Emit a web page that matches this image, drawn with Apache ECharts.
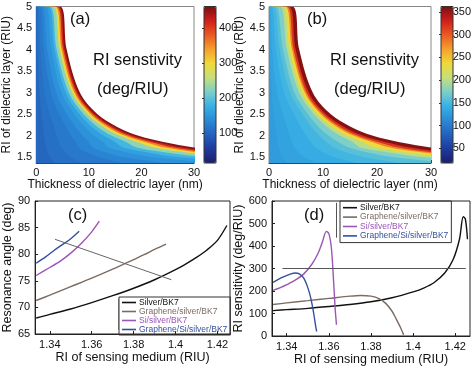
<!DOCTYPE html>
<html><head><meta charset="utf-8">
<script src="https://cdn.jsdelivr.net/npm/echarts@6/dist/echarts.min.js"></script>
<style>html,body{margin:0;padding:0;background:#fff}#c{width:474px;height:367px}</style>
</head><body><div id="c"></div>
<script>
// ================= DATA =================
// Heat maps (a),(b): iso-sensitivity contours, thickness (nm) read at these RI rows.
// Each contour k encloses the region whose colour is levelValues[k] (outermost = resonance edge).
const contourRowsRI = [5.0, 4.0, 3.0, 2.5, 2.2, 2.0, 1.85, 1.72, 1.6, 1.5, 1.4, 1.36];

const levelValuesA = [455, 415, 360, 300, 230, 185, 160, 145, 132, 120, 110, 100];
const contourThicknessA = [
  [4.5, 5.8, 8.3, 11.6, 15.4, 19.3, 24.2, 30.0, 38.0, 50.0, 70.0, 84.0],
  [4.13, 5.42, 7.88, 11.08, 14.66, 18.3, 22.78, 27.82, 35.4, 46.4, 64.8, 77],
  [3.85, 5.14, 7.57, 10.69, 14.11, 17.55, 21.72, 26.2, 33.5, 43.7, 60.9, 71.8],
  [3.57, 4.85, 7.25, 10.3, 13.55, 16.8, 20.65, 24.55, 31.5, 41, 57, 66.5],
  [3.19, 4.47, 6.83, 9.78, 12.81, 15.8, 19.23, 22.37, 28.9, 37.4, 51.8, 59.5],
  [2.63, 3.9, 6.2, 9.0, 11.7, 14.3, 17.1, 19.1, 25, 32, 44, 49],
  [2.3, 3.5, 5.6, 8.2, 10.6, 12.8, 15.0, 16.5, 21.5, 27, 37, 41],
  [1.8, 2.9, 4.8, 7.2, 9.3, 11.0, 12.8, 13.8, 17.5, 22, 30, 33],
  [1.2, 2.1, 3.8, 5.8, 7.5, 8.8, 10.0, 10.8, 13.5, 16.5, 22, 24],
  [0.8, 1.5, 2.8, 4.4, 5.7, 6.6, 7.5, 8.1, 9.8, 12.0, 15, 16],
  [0.4, 0.8, 1.6, 2.6, 3.4, 3.9, 4.4, 4.8, 5.6, 6.6, 8.0, 8.5],
  [0.15, 0.3, 0.6, 1.0, 1.3, 1.5, 1.7, 1.9, 2.2, 2.6, 3.2, 3.4]
];

const levelValuesB = [358, 320, 280, 235, 200, 175, 158, 148, 140, 132, 126];
const contourThicknessB = [
  [4.3, 5.6, 8.1, 11.4, 15.2, 19.1, 24.0, 30.0, 38.0, 50.0, 70.0, 84.0],
  [3.65, 4.94, 7.37, 10.49, 13.91, 17.35, 21.52, 26.2, 33.5, 43.7, 60.9, 71.8],
  [3.27, 4.56, 6.95, 9.97, 13.17, 16.35, 20.1, 24.0, 30.9, 40.1, 55.7, 64.8],
  [2.99, 4.27, 6.63, 9.58, 12.61, 15.6, 19.03, 22.37, 28.9, 37.4, 51.8, 59.5],
  [2.52, 3.8, 6.1, 8.93, 11.69, 14.35, 17.26, 19.65, 25.65, 32.9, 45.3, 50.75],
  [2.06, 3.32, 5.58, 8.28, 10.76, 13.1, 15.48, 16.92, 22.4, 28.4, 38.8, 42],
  [1.3, 2.6, 4.7, 7.2, 9.2, 11.0, 12.8, 14.8, 18.5, 23, 30, 34],
  [0.9, 2.0, 3.9, 6.2, 7.9, 9.3, 10.6, 12.0, 14.5, 17.5, 22, 24],
  [0.5, 1.3, 2.8, 4.6, 5.9, 6.9, 7.8, 8.6, 10.2, 12, 15, 16],
  [0.2, 0.6, 1.5, 2.6, 3.3, 3.8, 4.3, 4.7, 5.5, 6.5, 8, 8.5],
  [0.08, 0.2, 0.5, 0.9, 1.2, 1.4, 1.6, 1.8, 2.1, 2.5, 3.0, 3.2]
];

const colorbarRangeA = [15, 462];
const colorbarTicksA = [100, 200, 300, 400];
const colorbarRangeB = [18, 362];
const colorbarTicksB = [50, 100, 150, 200, 250, 300, 350];
const riTicks = [1.5, 2, 2.5, 3, 3.5, 4, 4.5, 5];

// Line panels (c),(d)
const seriesNames = ['Silver/BK7', 'Graphene/silver/BK7', 'Si/silver/BK7', 'Graphene/Si/silver/BK7'];
const sensingTicks = [1.34, 1.36, 1.38, 1.4, 1.42];

const angleX = [
  [1.3335, 1.34, 1.35, 1.36, 1.37, 1.38, 1.39, 1.40, 1.405, 1.41, 1.415, 1.42, 1.4245],
  [1.3335, 1.34, 1.35, 1.36, 1.37, 1.38, 1.385, 1.39, 1.3955],
  [1.3335, 1.34, 1.345, 1.35, 1.355, 1.36, 1.3636],
  [1.3335, 1.338, 1.342, 1.346, 1.35, 1.354]
];
const angleY = [
  [68.0, 68.7, 69.7, 70.9, 72.2, 73.6, 75.2, 77.1, 78.2, 79.4, 80.8, 82.6, 85.4],
  [71.3, 72.3, 73.9, 75.5, 77.2, 79.0, 79.9, 80.9, 81.9],
  [76.0, 77.5, 78.7, 80.2, 82.0, 84.2, 86.2],
  [78.3, 79.5, 80.7, 81.8, 82.9, 84.3]
];

const sensX = [
  [1.3335, 1.34, 1.35, 1.36, 1.37, 1.38, 1.39, 1.40, 1.405, 1.41, 1.415, 1.419, 1.422, 1.4238, 1.4248, 1.4258],
  [1.3335, 1.34, 1.35, 1.36, 1.37, 1.375, 1.38, 1.384, 1.387, 1.39, 1.392, 1.394, 1.3955],
  [1.3335, 1.337, 1.34, 1.344, 1.348, 1.352, 1.355, 1.357, 1.3588, 1.36, 1.3612, 1.3622, 1.363, 1.3636],
  [1.3335, 1.336, 1.339, 1.342, 1.344, 1.346, 1.348, 1.35, 1.3515, 1.3528, 1.3538, 1.3542]
];
const sensY = [
  [113, 117, 123, 131, 140, 152, 170, 196, 213, 238, 280, 340, 430, 530, 520, 430],
  [140, 147, 157, 167, 177, 180, 177, 165, 145, 110, 75, 38, 5],
  [203, 215, 228, 248, 275, 320, 370, 420, 465, 455, 390, 250, 120, 50],
  [238, 252, 265, 276, 280, 276, 258, 215, 165, 100, 40, 20]
];

// arrows [x1,y1,x2,y2] (data coordinates; arrow head at second point)
const arrowsC = [[1.398, 75.2, 1.3425, 82.8], [1.3728, 71.6, 1.3728, 65.8]];
const arrowsD = [[1.425, 300, 1.338, 300], [1.3633, 592, 1.3633, 437]];

// ================= STYLE =================
const FONT = 'Liberation Sans';
const palette = ['#1a1f6e','#1e3a9e','#2462bd','#2a8ad6','#38b0e6','#7ccfc9','#c6df7a','#f0d93a','#f5a02c','#ea5a22','#cf1f1c','#7a0f12'];
const lineColors = ['#111111', '#7b6b62', '#9b55b5', '#33509e'];

function hex2rgb(h){return [parseInt(h.substr(1,2),16),parseInt(h.substr(3,2),16),parseInt(h.substr(5,2),16)];}
function colorAt(v, range){
  let t = (v - range[0]) / (range[1] - range[0]);
  t = Math.max(0, Math.min(1, t));
  const p = t * (palette.length - 1);
  const i = Math.min(Math.floor(p), palette.length - 2);
  const f = p - i;
  const a = hex2rgb(palette[i]), b = hex2rgb(palette[i+1]);
  const c = a.map((x,k)=>Math.round(x + (b[k]-x)*f));
  return 'rgb(' + c.join(',') + ')';
}

function contourSeries(levels, thick, range, idx){
  return levels.map((lv, k) => ({type:'line', xAxisIndex:idx, yAxisIndex:idx, symbol:'none', showSymbol:false,
    silent:true, animation:false, lineStyle:{opacity:0, width:0}, smooth:0.35, z:1,
    data:[[0, 5]].concat(contourRowsRI.map((n, i) => [thick[k][i], n])),
    areaStyle:{color:colorAt(lv, range), opacity:1, origin:'start'}}));
}

const tickLbl = {fontFamily:FONT, fontSize:11, color:'#111'};
function heatX(idx){
  return {gridIndex:idx, type:'value', min:0, max:30, interval:10,
    axisLine:{show:true, lineStyle:{color:'#444', width:1}},
    axisTick:{inside:true, length:3, lineStyle:{color:'#444'}},
    axisLabel:Object.assign({margin:4}, tickLbl), splitLine:{show:false},
    name:'Thickness of dielectric layer (nm)', nameLocation:'middle', nameGap:14,
    nameTextStyle:{fontFamily:FONT, fontSize:12, color:'#111'}};
}
function heatY(idx){
  return {gridIndex:idx, type:'value', min:1.36, max:5,
    axisLine:{show:true, lineStyle:{color:'#444', width:1}},
    axisTick:{inside:true, length:3, customValues:riTicks, lineStyle:{color:'#444'}},
    axisLabel:Object.assign({margin:4, customValues:riTicks}, tickLbl), splitLine:{show:false},
    name:'RI of dielectric layer (RIU)', nameLocation:'middle', nameGap:19,
    nameTextStyle:{fontFamily:FONT, fontSize:12, color:'#111'}};
}
function cbX(idx){ return {gridIndex:idx, type:'value', min:0, max:1, show:false}; }
function cbY(idx, range, ticks){
  return {gridIndex:idx, type:'value', min:range[0], max:range[1], position:'right',
    axisLine:{show:false},
    axisTick:{inside:true, length:2, customValues:ticks, lineStyle:{color:'#333'}},
    axisLabel:Object.assign({margin:3, customValues:ticks}, tickLbl), splitLine:{show:false}};
}
function lineX(idx, max){
  return {gridIndex:idx, type:'value', min:1.333, max:max,
    axisLine:{show:true, lineStyle:{color:'#222'}},
    axisTick:{inside:true, length:3, customValues:sensingTicks, lineStyle:{color:'#222'}},
    axisLabel:Object.assign({margin:5, customValues:sensingTicks}, tickLbl), splitLine:{show:false},
    name:'RI of sensing medium (RIU)', nameLocation:'middle', nameGap:17,
    nameTextStyle:{fontFamily:FONT, fontSize:12.5, color:'#111'}};
}
function lineY(idx, min, max, interval, name, gap){
  return {gridIndex:idx, type:'value', min:min, max:max, interval:interval,
    axisLine:{show:true, lineStyle:{color:'#222'}},
    axisTick:{inside:true, length:3, lineStyle:{color:'#222'}},
    axisLabel:Object.assign({margin:5}, tickLbl), splitLine:{show:false},
    name:name, nameLocation:'middle', nameGap:gap,
    nameTextStyle:{fontFamily:FONT, fontSize:12.5, color:'#111'}};
}
function lineSeries(xs, ys, idx){
  return seriesNames.map((nm, k) => ({type:'line', name:nm, xAxisIndex:idx, yAxisIndex:idx,
    data:xs[k].map((x, i) => [x, ys[k][i]]), symbol:'none', showSymbol:false, smooth:0.3,
    lineStyle:{color:lineColors[k], width:1.4}, itemStyle:{color:lineColors[k]}, z:3}));
}
function arrowSeries(arr, idx, color){
  return {type:'line', name:'arrows' + idx, xAxisIndex:idx, yAxisIndex:idx, data:[], symbol:'none',
    markLine:{silent:true, symbol:['none','arrow'], symbolSize:[0,7], animation:false,
      lineStyle:{color:color, width:1, type:'solid'}, label:{show:false},
      data:arr.map(a => [{coord:[a[0], a[1]]}, {coord:[a[2], a[3]]}])}};
}
function legendFor(left, top, fs, lh, pad){
  return {left:left, top:top, orient:'vertical', icon:'rect', itemWidth:14, itemHeight:1.6,
    itemGap:0, padding:pad, borderColor:'#333', borderWidth:1, selectedMode:false, z:5,
    textStyle:{fontFamily:FONT, fontSize:fs, lineHeight:lh, padding:[0,0,0,-2]},
    data:seriesNames.map((n,k)=>({name:n, textStyle:{color:lineColors[k]}}))};
}
function txt(x, y, s, size){
  return {type:'text', x:x, y:y, silent:true, z:100,
    style:{text:s, fontFamily:FONT, fontSize:size, fill:'#111', align:'left', verticalAlign:'top'}};
}

const chart = echarts.init(document.getElementById('c'), null, {renderer:'canvas'});
chart.setOption({
  animation:false,
  backgroundColor:'#fff',
  grid:[
    {left:32, top:6.5, width:162, height:156.5, show:true, borderColor:'#888', borderWidth:1},
    {left:269, top:6.5, width:162, height:156.5, show:true, borderColor:'#888', borderWidth:1},
    {left:204, top:6.5, width:12, height:156.5},
    {left:441, top:6.5, width:12, height:156.5},
    {left:30, top:201, width:200, height:133, show:true, borderColor:'#222', borderWidth:1},
    {left:272, top:201, width:198, height:139, show:true, borderColor:'#222', borderWidth:1}
  ],
  xAxis:[heatX(0), heatX(1), cbX(2), cbX(3), lineX(4, 1.426), lineX(5, 1.427)],
  yAxis:[heatY(0), heatY(1), cbY(2, colorbarRangeA, colorbarTicksA), cbY(3, colorbarRangeB, colorbarTicksB),
    lineY(4, 65, 90, 5, 'Resonance angle (deg)', 19), lineY(5, 0, 600, 100, 'RI sensitivity (deg/RIU)', 23)],
  visualMap:[
    {type:'continuous', seriesIndex:[], min:colorbarRangeA[0], max:colorbarRangeA[1], left:204, top:6.5,
      itemWidth:12, itemHeight:156.5, padding:0, calculable:false, inRange:{color:palette}, text:null, hoverLink:false},
    {type:'continuous', seriesIndex:[], min:colorbarRangeB[0], max:colorbarRangeB[1], left:441, top:6.5,
      itemWidth:12, itemHeight:156.5, padding:0, calculable:false, inRange:{color:palette}, text:null, hoverLink:false}
  ],
  legend:[legendFor(119, 297, 8.5, 8.6, [1,3,1,3]), legendFor(340, 201, 8.5, 9.4, [2,3,2,3])],
  series:[].concat(
    contourSeries(levelValuesA, contourThicknessA, colorbarRangeA, 0),
    contourSeries(levelValuesB, contourThicknessB, colorbarRangeB, 1),
    [{type:'line', xAxisIndex:2, yAxisIndex:2, data:[]}, {type:'line', xAxisIndex:3, yAxisIndex:3, data:[]}],
    lineSeries(angleX, angleY, 4), [arrowSeries(arrowsC, 4, '#666')],
    lineSeries(sensX, sensY, 5), [arrowSeries(arrowsD, 5, '#555')]
  ),
  graphic:[
    txt(70, 11, '(a)', 16.5), txt(93, 52, 'RI senstivity', 16.5), txt(97, 81, '(deg/RIU)', 16.5),
    txt(307, 11, '(b)', 16.5), txt(330, 52, 'RI senstivity', 16.5), txt(334, 81, '(deg/RIU)', 16.5),
    txt(68, 207, '(c)', 16.5), txt(304, 207, '(d)', 16.5),
    {type:'rect', shape:{x:204, y:6.5, width:12, height:156.5}, style:{fill:'none', stroke:'#333', lineWidth:1}, z:100, silent:true},
    {type:'rect', shape:{x:441, y:6.5, width:12, height:156.5}, style:{fill:'none', stroke:'#333', lineWidth:1}, z:100, silent:true}
  ]
});
</script></body></html>
